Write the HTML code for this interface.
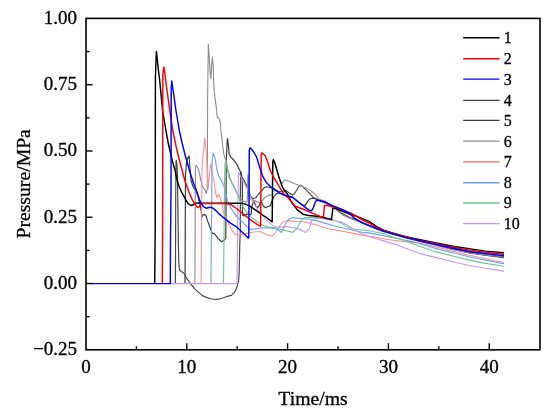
<!DOCTYPE html>
<html><head><meta charset="utf-8"><style>
html,body{margin:0;padding:0;background:#fff;width:550px;height:417px;overflow:hidden}
svg{display:block}
.t,.t2,.t3{font-family:"Liberation Serif","Times New Roman",serif;font-size:19px;fill:#000;stroke:#000;stroke-width:0.3px}
.t2{font-size:19.7px}
.t3{font-size:16px}
</style></head><body>
<svg width="550" height="417" viewBox="0 0 550 417">
<polyline points="175.4,283.6 175.7,200.0 176.0,162.0 176.3,160.3 177.0,165.0 177.5,175.0 177.8,200.0 178.3,240.0 178.8,262.0 179.5,270.0 181.0,271.5 183.5,272.8 186.9,278.7 190.0,283.0 195.0,289.1 202.3,295.6 209.5,298.5 214.6,299.5 220.5,298.8 226.3,296.7 231.4,295.4 234.3,292.4 236.4,288.8 238.6,280.4 239.2,272.0 239.7,246.8 240.3,230.0 240.4,190.0 240.7,172.0 242.0,177.0 243.2,178.8 245.4,183.1 246.8,186.0 248.2,189.6 249.7,193.9 250.4,196.0 252.9,198.8 255.8,197.8 258.6,194.0 261.5,191.1 264.4,187.3 267.3,186.8 270.1,187.7 273.0,187.7 276.0,190.0 278.8,191.5 282.0,191.5 285.7,190.4 289.2,193.0 292.6,195.1 294.4,193.8 297.0,189.5 299.1,186.0 300.8,185.2 303.0,186.9 306.5,190.4 309.9,193.8 313.4,197.3 316.8,199.4 320.0,200.9 325.5,203.0 333.6,207.8 341.8,213.4 350.0,217.5 360.0,221.5 370.0,226.0 380.0,230.0 390.0,233.0 400.0,236.0 420.0,241.0 436.0,245.0 452.0,249.0 469.0,252.8 485.0,255.2 504.0,257.6" fill="none" stroke="#4a4a4a" stroke-width="1.2" stroke-linejoin="round"/>
<polyline points="185.0,283.6 185.5,175.0 186.7,160.8 188.0,157.5 189.2,156.0 189.6,164.4 190.3,171.6 191.0,180.0 192.5,185.0 194.0,188.5 196.0,190.5 198.0,196.0 199.6,202.9 201.0,209.6 202.0,216.8 203.2,215.0 204.4,214.4 205.8,215.3 207.7,221.1 210.1,227.8 212.1,233.1 214.5,233.6 215.9,235.5 217.8,238.4 218.8,239.0 221.6,241.8 224.5,239.7 225.8,238.0 226.3,160.0 227.3,140.0 227.6,138.6 228.7,148.2 229.2,154.0 230.6,156.9 233.5,159.7 236.4,163.6 238.8,168.4 240.7,172.3 241.4,176.6 242.3,180.0 242.5,215.0 244.0,216.0 247.0,214.0 250.0,214.5 251.3,214.0 251.5,208.0 252.7,203.6 254.1,201.5 255.6,205.8 257.0,208.0 259.0,206.0 261.0,200.8 263.2,205.8 265.3,207.6 268.0,206.5 270.4,205.8 272.5,199.3 275.0,195.0 277.8,193.0 281.7,193.5 285.0,195.0 288.3,196.3 292.6,197.6 297.0,201.0 301.3,204.5 304.7,205.5 306.5,203.3 308.2,200.7 309.9,199.0 312.5,198.1 315.1,198.6 317.0,199.8 320.0,200.5 325.5,202.3 333.6,206.4 341.8,209.8 350.0,213.7 354.5,218.2 361.8,222.4 369.1,225.3 376.4,228.2 383.6,230.9 390.0,232.3 400.0,235.2 420.0,240.3 436.0,244.3 452.0,248.3 469.0,252.3 485.0,254.8 504.0,257.2" fill="none" stroke="#3c3c3c" stroke-width="1.2" stroke-linejoin="round"/>
<polyline points="194.9,283.6 195.4,170.0 195.8,165.8 196.2,165.3 198.6,169.6 199.6,174.4 200.6,179.2 202.5,186.9 204.4,188.8 206.3,193.6 207.3,188.8 207.6,100.0 208.3,44.4 209.2,56.0 210.2,74.0 210.8,79.0 211.6,66.0 212.4,57.3 213.2,66.0 213.7,85.0 214.4,92.0 215.1,98.6 216.6,110.1 217.3,117.3 218.7,118.1 220.2,121.7 220.9,130.3 222.3,141.8 223.8,154.3 225.2,158.6 226.3,160.8 227.4,168.0 228.8,173.0 230.2,178.8 232.0,183.0 234.5,188.0 237.3,193.8 240.0,198.0 243.0,201.0 245.5,202.0 247.3,201.5 247.6,185.0 247.9,174.5 248.6,180.0 249.2,197.0 250.0,198.8 254.8,200.7 259.6,203.1 262.0,200.6 264.9,197.7 267.8,195.6 270.6,194.9 272.3,194.5 272.7,162.0 273.3,159.8 274.9,163.3 276.5,168.7 278.7,176.4 280.5,181.0 282.3,183.3 284.1,180.3 285.8,179.9 288.4,181.2 289.6,181.3 294.0,183.4 298.4,185.1 302.7,186.7 307.1,188.4 311.4,191.1 315.8,194.9 319.1,199.3 325.5,201.3 333.6,207.8 341.8,214.4 350.0,218.5 360.0,222.0 370.0,226.5 380.0,230.5 390.0,233.5 400.0,236.5 420.0,241.5 436.0,245.5 452.0,249.5 469.0,252.8 485.0,255.0 504.0,257.0" fill="none" stroke="#8c8c8c" stroke-width="1.1" stroke-linejoin="round"/>
<polyline points="201.1,283.6 201.7,200.0 202.0,168.0 202.5,160.0 204.8,137.9 206.5,154.5 207.3,169.6 208.2,188.8 209.0,180.0 210.1,167.7 210.6,163.8 211.6,169.6 213.0,176.3 214.5,184.0 215.6,192.6 216.8,198.0 218.1,194.7 219.3,195.5 220.6,199.3 221.9,203.5 223.5,212.0 225.5,217.7 228.2,223.1 231.5,229.6 234.7,233.9 239.0,235.0 244.4,233.9 249.8,232.8 255.2,231.7 260.6,231.8 264.0,233.4 268.2,235.3 272.5,236.1 276.8,231.0 281.1,223.8 285.0,221.0 288.5,220.6 294.4,221.2 302.6,221.7 310.7,223.4 318.9,225.8 328.7,229.1 338.6,230.5 347.1,232.1 354.5,233.6 361.8,235.1 369.1,236.3 376.4,237.3 383.6,238.7 390.9,240.0 398.2,240.9 405.5,241.6 412.7,242.4 420.0,243.0 436.4,247.0 452.7,251.1 469.1,255.2 485.5,258.5 504.0,262.7" fill="none" stroke="#ff9090" stroke-width="1.1" stroke-linejoin="round"/>
<polyline points="210.9,283.6 211.8,200.0 211.9,170.0 212.2,160.0 213.4,153.0 215.2,158.8 216.9,169.6 218.8,176.3 221.7,181.1 224.1,186.9 225.0,191.0 226.5,197.0 228.2,202.6 231.5,209.0 235.8,215.5 241.2,220.9 246.6,226.3 250.9,229.6 257.4,228.5 262.8,227.9 268.2,227.9 275.0,228.5 278.0,230.0 281.3,232.4 284.5,225.8 288.6,219.3 292.7,217.6 300.9,218.5 309.1,219.3 317.3,220.9 325.5,223.4 333.6,225.8 341.8,227.8 350.0,229.5 361.8,232.2 369.1,232.9 376.4,234.4 383.6,235.8 390.9,237.3 398.2,238.7 405.5,240.2 412.7,241.6 420.0,243.7 436.4,248.6 452.7,252.7 469.1,256.8 485.5,260.1 504.0,263.7" fill="none" stroke="#6a9ef0" stroke-width="1.1" stroke-linejoin="round"/>
<polyline points="223.5,283.6 224.4,200.0 224.6,175.0 225.0,163.8 225.4,162.2 226.8,165.0 228.7,176.5 231.6,182.3 234.5,188.0 237.3,193.8 240.2,201.0 243.8,208.0 246.6,212.0 252.0,217.7 257.4,222.0 262.8,225.2 268.2,226.9 275.0,227.8 279.6,229.1 286.2,230.7 292.7,232.4 297.6,227.5 300.9,220.9 304.2,217.6 310.7,217.6 318.9,217.6 325.5,218.5 333.6,220.1 341.8,223.5 347.3,227.1 354.5,229.3 361.8,230.0 369.1,230.7 376.4,232.2 383.6,233.6 390.9,236.5 398.2,238.7 405.5,240.9 412.7,243.8 420.0,246.5 436.4,251.9 452.7,256.0 469.1,260.1 485.5,263.4 504.0,266.3" fill="none" stroke="#6cc890" stroke-width="1.1" stroke-linejoin="round"/>
<polyline points="170.5,283.6 237.0,283.6 237.9,200.0 238.5,172.3 241.8,178.8 244.6,184.5 247.5,189.6 249.7,194.6 252.4,201.5 255.3,205.8 258.9,210.9 261.7,214.5 265.3,218.8 268.2,221.5 273.1,225.8 278.0,227.5 284.5,226.6 292.7,227.5 300.9,229.9 305.8,232.4 309.1,229.1 311.9,220.3 315.6,218.5 323.6,218.6 333.6,220.5 340.0,221.5 347.3,224.9 354.5,230.0 361.8,233.6 369.1,236.5 376.4,238.7 383.6,240.9 390.9,243.1 398.2,245.3 405.5,248.2 420.0,253.6 436.4,257.6 452.7,261.7 469.1,265.5 485.5,268.3 504.0,271.1" fill="none" stroke="#c898f0" stroke-width="1.1" stroke-linejoin="round"/>
<polyline points="154.7,283.6 155.2,230.0 155.4,77.0 156.4,51.5 157.2,58.0 158.4,70.0 159.6,79.6 161.0,94.0 162.5,110.0 165.0,125.0 168.0,142.0 170.5,153.0 172.3,160.8 175.2,170.9 177.0,180.0 178.8,185.8 182.4,193.7 185.6,199.4 188.1,203.7 191.0,205.5 193.2,204.8 195.3,203.4 198.0,202.9 202.0,203.1 225.0,203.2 241.2,203.3 243.5,203.6 245.5,204.2 248.8,205.6 252.4,207.9 256.0,210.3 259.6,213.0 263.2,215.5 266.8,217.7 270.0,220.2 272.2,221.8 272.8,162.0 273.3,159.6 274.9,163.3 276.5,168.7 278.7,176.4 280.9,182.9 283.1,188.4 285.3,191.5 287.7,194.5 291.5,202.2 297.3,209.9 303.0,214.2 308.5,215.5 314.0,216.0 320.6,216.8 327.1,218.5 331.5,219.5 332.8,208.6 334.5,207.8 341.8,211.1 350.0,214.4 354.5,215.5 361.8,218.4 369.1,221.3 376.4,226.4 383.6,230.2 390.9,232.6 398.2,234.8 405.5,236.8 412.7,238.3 420.0,239.6 436.4,242.9 452.7,246.2 469.1,248.6 485.5,251.1 504.0,252.8" fill="none" stroke="#000000" stroke-width="1.45" stroke-linejoin="round"/>
<polyline points="162.3,283.6 162.6,230.0 162.8,75.0 163.8,67.0 164.4,70.0 166.8,89.2 169.7,110.0 172.7,130.0 176.0,146.0 178.8,158.0 182.1,170.3 185.0,181.0 186.7,185.8 189.6,193.7 192.5,200.1 194.6,203.7 196.8,206.6 198.0,207.5 199.6,206.7 201.0,203.8 203.0,203.6 225.0,203.6 230.4,204.2 235.8,208.0 241.2,212.3 246.6,216.6 252.0,220.9 257.4,224.7 260.6,226.3 261.2,155.0 261.9,152.7 265.2,155.8 268.0,163.0 270.2,170.2 273.1,176.5 276.9,182.5 280.7,189.2 284.5,194.9 288.5,198.2 291.1,201.3 295.2,206.2 299.3,207.8 304.2,209.5 309.1,211.9 315.6,214.4 321.4,216.8 323.5,216.8 324.5,205.4 325.5,205.4 330.4,206.2 336.9,207.8 343.0,210.0 350.0,212.7 361.8,219.5 369.1,223.0 376.4,227.5 383.6,230.5 398.0,235.0 412.0,238.5 420.0,240.5 436.0,243.8 452.0,247.0 469.0,250.0 485.0,252.3 504.0,254.3" fill="none" stroke="#ff0000" stroke-width="1.45" stroke-linejoin="round"/>
<polyline points="92.0,283.6 170.3,283.6 170.5,240.0 171.0,190.0 171.2,88.0 171.8,81.0 172.5,86.3 174.5,100.0 175.9,110.0 179.2,130.0 182.1,143.0 185.0,154.5 187.8,164.5 190.7,174.6 193.6,183.2 196.8,191.5 199.6,200.0 201.0,202.9 203.4,206.7 206.3,208.2 210.1,207.2 212.5,207.7 215.9,210.6 219.7,214.4 223.6,217.7 227.4,220.6 230.4,223.1 235.8,226.3 241.2,231.2 246.6,236.2 248.3,238.2 248.8,237.5 249.3,150.0 250.1,147.8 253.7,152.0 256.5,156.9 259.0,165.0 262.5,175.8 266.3,182.5 270.1,186.3 274.9,190.1 279.7,193.0 284.5,195.4 288.3,196.0 292.6,197.3 297.0,200.7 301.3,204.2 305.6,207.6 309.0,210.2 311.6,210.7 313.4,207.6 315.1,202.5 316.4,200.3 320.0,200.7 325.5,202.3 333.6,206.2 341.8,209.5 350.0,213.5 354.5,218.4 361.8,222.7 369.1,225.6 376.4,228.5 383.6,231.2 390.9,233.2 398.2,235.4 405.5,237.6 412.7,239.0 420.0,241.0 436.0,244.5 452.0,248.0 469.0,251.5 485.0,253.5 504.0,255.8" fill="none" stroke="#0000ff" stroke-width="1.45" stroke-linejoin="round"/>
<rect x="86.0" y="18.4" width="454.0" height="331.4" fill="none" stroke="#000" stroke-width="1.6"/>
<text x="77.1" y="23.96" text-anchor="end" class="t">1.00</text>
<line x1="86.0" y1="84.73" x2="92.5" y2="84.73" stroke="#000" stroke-width="1.4"/>
<text x="77.1" y="90.23" text-anchor="end" class="t">0.75</text>
<line x1="86.0" y1="150.99" x2="92.5" y2="150.99" stroke="#000" stroke-width="1.4"/>
<text x="77.1" y="156.49" text-anchor="end" class="t">0.50</text>
<line x1="86.0" y1="217.26" x2="92.5" y2="217.26" stroke="#000" stroke-width="1.4"/>
<text x="77.1" y="222.76" text-anchor="end" class="t">0.25</text>
<line x1="86.0" y1="283.53" x2="92.5" y2="283.53" stroke="#000" stroke-width="1.4"/>
<text x="77.1" y="289.03" text-anchor="end" class="t">0.00</text>
<text x="77.1" y="355.30" text-anchor="end" class="t">−0.25</text>
<line x1="86.0" y1="51.59" x2="89.5" y2="51.59" stroke="#000" stroke-width="1.4"/>
<line x1="86.0" y1="117.86" x2="89.5" y2="117.86" stroke="#000" stroke-width="1.4"/>
<line x1="86.0" y1="184.13" x2="89.5" y2="184.13" stroke="#000" stroke-width="1.4"/>
<line x1="86.0" y1="250.40" x2="89.5" y2="250.40" stroke="#000" stroke-width="1.4"/>
<line x1="86.0" y1="316.66" x2="89.5" y2="316.66" stroke="#000" stroke-width="1.4"/>
<text x="86.00" y="373" text-anchor="middle" class="t">0</text>
<line x1="186.80" y1="349.75" x2="186.80" y2="343.25" stroke="#000" stroke-width="1.4"/>
<text x="186.80" y="373" text-anchor="middle" class="t">10</text>
<line x1="287.60" y1="349.75" x2="287.60" y2="343.25" stroke="#000" stroke-width="1.4"/>
<text x="287.60" y="373" text-anchor="middle" class="t">20</text>
<line x1="388.40" y1="349.75" x2="388.40" y2="343.25" stroke="#000" stroke-width="1.4"/>
<text x="388.40" y="373" text-anchor="middle" class="t">30</text>
<line x1="489.20" y1="349.75" x2="489.20" y2="343.25" stroke="#000" stroke-width="1.4"/>
<text x="489.20" y="373" text-anchor="middle" class="t">40</text>
<line x1="136.40" y1="349.75" x2="136.40" y2="346.25" stroke="#000" stroke-width="1.4"/>
<line x1="237.20" y1="349.75" x2="237.20" y2="346.25" stroke="#000" stroke-width="1.4"/>
<line x1="338.00" y1="349.75" x2="338.00" y2="346.25" stroke="#000" stroke-width="1.4"/>
<line x1="438.80" y1="349.75" x2="438.80" y2="346.25" stroke="#000" stroke-width="1.4"/>
<text x="313" y="405" text-anchor="middle" class="t2">Time/ms</text>
<text transform="translate(29.7,183.85) rotate(-90)" text-anchor="middle" class="t2">Pressure/MPa</text>
<line x1="463.2" y1="37.7" x2="499.6" y2="37.7" stroke="#000000" stroke-width="1.45"/>
<text x="503.8" y="43.1" class="t3">1</text>
<line x1="463.2" y1="58.7" x2="499.6" y2="58.7" stroke="#ff0000" stroke-width="1.45"/>
<text x="503.8" y="64.1" class="t3">2</text>
<line x1="463.2" y1="79.1" x2="499.6" y2="79.1" stroke="#0000ff" stroke-width="1.45"/>
<text x="503.8" y="84.5" class="t3">3</text>
<line x1="463.2" y1="100.3" x2="499.6" y2="100.3" stroke="#4a4a4a" stroke-width="1.2"/>
<text x="503.8" y="105.7" class="t3">4</text>
<line x1="463.2" y1="120.4" x2="499.6" y2="120.4" stroke="#3c3c3c" stroke-width="1.2"/>
<text x="503.8" y="125.8" class="t3">5</text>
<line x1="463.2" y1="141.2" x2="499.6" y2="141.2" stroke="#8c8c8c" stroke-width="1.2"/>
<text x="503.8" y="146.6" class="t3">6</text>
<line x1="463.2" y1="161.9" x2="499.6" y2="161.9" stroke="#ff9090" stroke-width="1.8"/>
<text x="503.8" y="167.3" class="t3">7</text>
<line x1="463.2" y1="182.8" x2="499.6" y2="182.8" stroke="#6a9ef0" stroke-width="1.4"/>
<text x="503.8" y="188.2" class="t3">8</text>
<line x1="463.2" y1="203.0" x2="499.6" y2="203.0" stroke="#6cc890" stroke-width="1.4"/>
<text x="503.8" y="208.4" class="t3">9</text>
<line x1="463.2" y1="223.6" x2="499.6" y2="223.6" stroke="#c898f0" stroke-width="1.4"/>
<text x="503.8" y="229.0" class="t3">10</text>
</svg>
</body></html>
